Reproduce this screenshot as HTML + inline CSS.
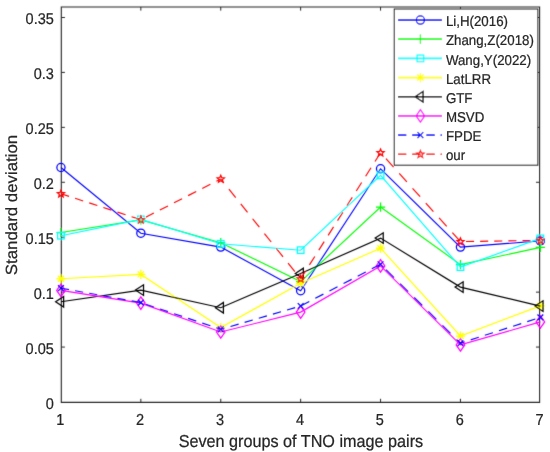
<!DOCTYPE html><html><head><meta charset="utf-8"><style>html,body{margin:0;padding:0;background:#fff;}svg{display:block;}text{text-rendering:geometricPrecision;font-family:"Liberation Sans",Arial,Helvetica,sans-serif;fill:#262626;stroke:#262626;stroke-width:0.22;}</style></head><body>
<svg width="550" height="452" viewBox="0 0 550 452">
<defs><filter id="b" x="0" y="0" width="550" height="452" filterUnits="userSpaceOnUse"><feConvolveMatrix order="3" kernelMatrix="0.0113 0.0838 0.0113 0.0838 0.6193 0.0838 0.0113 0.0838 0.0113" divisor="1" edgeMode="duplicate"/></filter></defs>
<rect width="550" height="452" fill="#fff"/>
<g filter="url(#b)">
<path d="M140.85 402.4V398.8M140.85 7V10.6M220.75 402.4V398.8M220.75 7V10.6M300.65 402.4V398.8M300.65 7V10.6M380.55 402.4V398.8M380.55 7V10.6M460.45 402.4V398.8M460.45 7V10.6M61.3 347.07H64.9M539.6 347.07H536M61.3 292.14H64.9M539.6 292.14H536M61.3 237.21H64.9M539.6 237.21H536M61.3 182.28H64.9M539.6 182.28H536M61.3 127.35H64.9M539.6 127.35H536M61.3 72.42H64.9M539.6 72.42H536M61.3 17.49H64.9M539.6 17.49H536" stroke="#262626" stroke-width="1" fill="none"/>
<path d="M61.3 7H539.6M61.3 402.4H539.6M61.3 7V402.4M539.6 7V402.4" fill="none" stroke="#262626" stroke-width="1.1" stroke-linecap="square"/>
<polyline points="60.95,167.5 140.85,233.2 220.75,247.1 300.65,290.7 380.55,168.8 460.45,247.1 540.35,240.9" fill="none" stroke="#0000ff" stroke-width="1.15"/>
<g stroke-width="1.25"><circle cx="60.95" cy="167.5" r="4.1" fill="none" stroke="#0000ff"/><circle cx="140.85" cy="233.2" r="4.1" fill="none" stroke="#0000ff"/><circle cx="220.75" cy="247.1" r="4.1" fill="none" stroke="#0000ff"/><circle cx="300.65" cy="290.7" r="4.1" fill="none" stroke="#0000ff"/><circle cx="380.55" cy="168.8" r="4.1" fill="none" stroke="#0000ff"/><circle cx="460.45" cy="247.1" r="4.1" fill="none" stroke="#0000ff"/><circle cx="540.35" cy="240.9" r="4.1" fill="none" stroke="#0000ff"/></g>
<polyline points="60.95,232.5 140.85,219.9 220.75,242.7 300.65,281.6 380.55,207.1 460.45,264.6 540.35,247.4" fill="none" stroke="#00ff00" stroke-width="1.15"/>
<g stroke-width="1.25"><path d="M56.35 232.5H65.55M60.95 227.9V237.1" stroke="#00ff00"/><path d="M136.25 219.9H145.45M140.85 215.3V224.5" stroke="#00ff00"/><path d="M216.15 242.7H225.35M220.75 238.1V247.3" stroke="#00ff00"/><path d="M296.05 281.6H305.25M300.65 277V286.2" stroke="#00ff00"/><path d="M375.95 207.1H385.15M380.55 202.5V211.7" stroke="#00ff00"/><path d="M455.85 264.6H465.05M460.45 260V269.2" stroke="#00ff00"/><path d="M535.75 247.4H544.95M540.35 242.8V252" stroke="#00ff00"/></g>
<polyline points="60.95,235.7 140.85,219.4 220.75,243.8 300.65,250.2 380.55,175.4 460.45,267.1 540.35,238.4" fill="none" stroke="#00ffff" stroke-width="1.15"/>
<g stroke-width="1.25"><rect x="57.65" y="232.4" width="6.6" height="6.6" fill="none" stroke="#00ffff"/><rect x="137.55" y="216.1" width="6.6" height="6.6" fill="none" stroke="#00ffff"/><rect x="217.45" y="240.5" width="6.6" height="6.6" fill="none" stroke="#00ffff"/><rect x="297.35" y="246.9" width="6.6" height="6.6" fill="none" stroke="#00ffff"/><rect x="377.25" y="172.1" width="6.6" height="6.6" fill="none" stroke="#00ffff"/><rect x="457.15" y="263.8" width="6.6" height="6.6" fill="none" stroke="#00ffff"/><rect x="537.05" y="235.1" width="6.6" height="6.6" fill="none" stroke="#00ffff"/></g>
<polyline points="60.95,278.8 140.85,274.4 220.75,327.6 300.65,283.3 380.55,248.2 460.45,336 540.35,305.9" fill="none" stroke="#ffff00" stroke-width="1.15"/>
<g stroke-width="1.25"><path d="M56.35 278.8H65.55M60.95 274.2V283.4M57.85 275.8L64.05 281.8M57.85 281.8L64.05 275.8" stroke="#ffff00"/><path d="M136.25 274.4H145.45M140.85 269.8V279M137.75 271.4L143.95 277.4M137.75 277.4L143.95 271.4" stroke="#ffff00"/><path d="M216.15 327.6H225.35M220.75 323V332.2M217.65 324.6L223.85 330.6M217.65 330.6L223.85 324.6" stroke="#ffff00"/><path d="M296.05 283.3H305.25M300.65 278.7V287.9M297.55 280.3L303.75 286.3M297.55 286.3L303.75 280.3" stroke="#ffff00"/><path d="M375.95 248.2H385.15M380.55 243.6V252.8M377.45 245.2L383.65 251.2M377.45 251.2L383.65 245.2" stroke="#ffff00"/><path d="M455.85 336H465.05M460.45 331.4V340.6M457.35 333L463.55 339M457.35 339L463.55 333" stroke="#ffff00"/><path d="M535.75 305.9H544.95M540.35 301.3V310.5M537.25 302.9L543.45 308.9M537.25 308.9L543.45 302.9" stroke="#ffff00"/></g>
<polyline points="60.95,301.8 140.85,290.1 220.75,307.7 300.65,273.5 380.55,238.1 460.45,287.1 540.35,306.1" fill="none" stroke="#000000" stroke-width="1.15"/>
<g stroke-width="1.25"><path d="M55.62 301.8L63.62 296.5V307.1Z" fill="none" stroke="#000000"/><path d="M135.52 290.1L143.52 284.8V295.4Z" fill="none" stroke="#000000"/><path d="M215.42 307.7L223.42 302.4V313Z" fill="none" stroke="#000000"/><path d="M295.32 273.5L303.32 268.2V278.8Z" fill="none" stroke="#000000"/><path d="M375.22 238.1L383.22 232.8V243.4Z" fill="none" stroke="#000000"/><path d="M455.12 287.1L463.12 281.8V292.4Z" fill="none" stroke="#000000"/><path d="M535.02 306.1L543.02 300.8V311.4Z" fill="none" stroke="#000000"/></g>
<polyline points="60.95,290.4 140.85,303.1 220.75,332 300.65,312.1 380.55,265.9 460.45,344.9 540.35,321.9" fill="none" stroke="#ff00ff" stroke-width="1.15"/>
<g stroke-width="1.25"><path d="M60.95 284.2L65.25 290.4L60.95 296.6L56.65 290.4Z" fill="none" stroke="#ff00ff"/><path d="M140.85 296.9L145.15 303.1L140.85 309.3L136.55 303.1Z" fill="none" stroke="#ff00ff"/><path d="M220.75 325.8L225.05 332L220.75 338.2L216.45 332Z" fill="none" stroke="#ff00ff"/><path d="M300.65 305.9L304.95 312.1L300.65 318.3L296.35 312.1Z" fill="none" stroke="#ff00ff"/><path d="M380.55 259.7L384.85 265.9L380.55 272.1L376.25 265.9Z" fill="none" stroke="#ff00ff"/><path d="M460.45 338.7L464.75 344.9L460.45 351.1L456.15 344.9Z" fill="none" stroke="#ff00ff"/><path d="M540.35 315.7L544.65 321.9L540.35 328.1L536.05 321.9Z" fill="none" stroke="#ff00ff"/></g>
<g stroke="#0000ff" stroke-width="1.15" fill="none"><line x1="60.95" y1="288.2" x2="140.85" y2="302.6" stroke-dasharray="8.23 6.13" stroke-dashoffset="0"/><line x1="140.85" y1="302.6" x2="220.75" y2="329.3" stroke-dasharray="8.54 6.36" stroke-dashoffset="9.75"/><line x1="220.75" y1="329.3" x2="300.65" y2="306" stroke-dasharray="8.44 6.28" stroke-dashoffset="4.55"/><line x1="300.65" y1="306" x2="380.55" y2="264.3" stroke-dasharray="9.14 6.8" stroke-dashoffset="15.36"/><line x1="380.55" y1="264.3" x2="460.45" y2="343.2" stroke-dasharray="11.38 8.47" stroke-dashoffset="12.28"/><line x1="460.45" y1="343.2" x2="540.35" y2="317.4" stroke-dasharray="8.51 6.34" stroke-dashoffset="4.06"/></g>
<g stroke-width="1.25"><path d="M58.05 285.3L63.85 291.1M58.05 291.1L63.85 285.3" stroke="#0000ff"/><path d="M137.95 299.7L143.75 305.5M137.95 305.5L143.75 299.7" stroke="#0000ff"/><path d="M217.85 326.4L223.65 332.2M217.85 332.2L223.65 326.4" stroke="#0000ff"/><path d="M297.75 303.1L303.55 308.9M297.75 308.9L303.55 303.1" stroke="#0000ff"/><path d="M377.65 261.4L383.45 267.2M377.65 267.2L383.45 261.4" stroke="#0000ff"/><path d="M457.55 340.3L463.35 346.1M457.55 346.1L463.35 340.3" stroke="#0000ff"/><path d="M537.45 314.5L543.25 320.3M537.45 320.3L543.25 314.5" stroke="#0000ff"/></g>
<g stroke="#ff0000" stroke-width="1.15" fill="none"><line x1="60.95" y1="193.7" x2="140.85" y2="219.7" stroke-dasharray="8.52 6.34" stroke-dashoffset="0"/><line x1="140.85" y1="219.7" x2="220.75" y2="179" stroke-dasharray="9.09 6.77" stroke-dashoffset="10.38"/><line x1="220.75" y1="179" x2="300.65" y2="278.8" stroke-dasharray="10.85 8.08" stroke-dashoffset="5.86"/><line x1="300.65" y1="278.8" x2="380.55" y2="152.7" stroke-dasharray="10.03 7.47" stroke-dashoffset="1.08"/><line x1="380.55" y1="152.7" x2="460.45" y2="241.6" stroke-dasharray="11.39 8.48" stroke-dashoffset="11.79"/><line x1="460.45" y1="241.6" x2="540.35" y2="240.4" stroke-dasharray="8.1 6.03" stroke-dashoffset="8.6"/></g>
<g stroke-width="1.25"><polygon points="60.95,190 61.96,192.42 64.56,192.63 62.58,194.33 63.18,196.87 60.95,195.51 58.72,196.87 59.32,194.33 57.34,192.63 59.94,192.42" fill="none" stroke="#ff0000"/><polygon points="140.85,216 141.86,218.42 144.46,218.63 142.48,220.33 143.08,222.87 140.85,221.51 138.62,222.87 139.22,220.33 137.24,218.63 139.84,218.42" fill="none" stroke="#ff0000"/><polygon points="220.75,175.3 221.76,177.72 224.36,177.93 222.38,179.63 222.98,182.17 220.75,180.81 218.52,182.17 219.12,179.63 217.14,177.93 219.74,177.72" fill="none" stroke="#ff0000"/><polygon points="300.65,275.1 301.66,277.52 304.26,277.73 302.28,279.43 302.88,281.97 300.65,280.61 298.42,281.97 299.02,279.43 297.04,277.73 299.64,277.52" fill="none" stroke="#ff0000"/><polygon points="380.55,149 381.56,151.42 384.16,151.63 382.18,153.33 382.78,155.87 380.55,154.51 378.32,155.87 378.92,153.33 376.94,151.63 379.54,151.42" fill="none" stroke="#ff0000"/><polygon points="460.45,237.9 461.46,240.32 464.06,240.53 462.08,242.23 462.68,244.77 460.45,243.41 458.22,244.77 458.82,242.23 456.84,240.53 459.44,240.32" fill="none" stroke="#ff0000"/><polygon points="540.35,236.7 541.36,239.12 543.96,239.33 541.98,241.03 542.58,243.57 540.35,242.21 538.12,243.57 538.72,241.03 536.74,239.33 539.34,239.12" fill="none" stroke="#ff0000"/></g>
<rect x="394.3" y="9.0" width="143.5" height="156.2" fill="#fff" stroke="#262626" stroke-width="1.1"/>
<path d="M398 20.05H442" stroke="#0000ff" stroke-width="1.7"/>
<g stroke-width="1.25"><circle cx="420.4" cy="20.05" r="4.1" fill="none" stroke="#0000ff"/></g>
<path d="M398 39.22H442" stroke="#00ff00" stroke-width="1.7"/>
<g stroke-width="1.25"><path d="M415.8 39.22H425M420.4 34.62V43.82" stroke="#00ff00"/></g>
<path d="M398 58.39H442" stroke="#00ffff" stroke-width="1.7"/>
<g stroke-width="1.25"><rect x="417.1" y="55.09" width="6.6" height="6.6" fill="none" stroke="#00ffff"/></g>
<path d="M398 77.56H442" stroke="#ffff00" stroke-width="1.7"/>
<g stroke-width="1.25"><path d="M415.8 77.56H425M420.4 72.96V82.16M417.3 74.56L423.5 80.56M417.3 80.56L423.5 74.56" stroke="#ffff00"/></g>
<path d="M398 96.73H442" stroke="#000000" stroke-width="1.7"/>
<g stroke-width="1.25"><path d="M415.07 96.73L423.07 91.43V102.03Z" fill="none" stroke="#000000"/></g>
<path d="M398 115.9H442" stroke="#ff00ff" stroke-width="1.7"/>
<g stroke-width="1.25"><path d="M420.4 109.7L424.7 115.9L420.4 122.1L416.1 115.9Z" fill="none" stroke="#ff00ff"/></g>
<path d="M398 135.07H442" stroke="#0000ff" stroke-width="1.7" stroke-dasharray="8.3 5.9"/>
<g stroke-width="1.25"><path d="M417.5 132.17L423.3 137.97M417.5 137.97L423.3 132.17" stroke="#0000ff"/></g>
<path d="M398 154.24H442" stroke="#ff0000" stroke-width="1.7" stroke-dasharray="8.3 5.9"/>
<g stroke-width="1.25"><polygon points="420.4,150.54 421.41,152.96 424.01,153.17 422.03,154.87 422.63,157.41 420.4,156.05 418.17,157.41 418.77,154.87 416.79,153.17 419.39,152.96" fill="none" stroke="#ff0000"/></g>
</g>
<g>
<text transform="translate(53.8 409) scale(1 1.07)" font-size="14.5" text-anchor="end">0</text>
<text transform="translate(53.8 354.07) scale(1 1.07)" font-size="14.5" text-anchor="end">0.05</text>
<text transform="translate(53.8 299.14) scale(1 1.07)" font-size="14.5" text-anchor="end">0.1</text>
<text transform="translate(53.8 244.21) scale(1 1.07)" font-size="14.5" text-anchor="end">0.15</text>
<text transform="translate(53.8 189.28) scale(1 1.07)" font-size="14.5" text-anchor="end">0.2</text>
<text transform="translate(53.8 134.35) scale(1 1.07)" font-size="14.5" text-anchor="end">0.25</text>
<text transform="translate(53.8 79.42) scale(1 1.07)" font-size="14.5" text-anchor="end">0.3</text>
<text transform="translate(53.8 24.49) scale(1 1.07)" font-size="14.5" text-anchor="end">0.35</text>
<text transform="translate(60.25 424.9) scale(1 1.1)" font-size="14.5" text-anchor="middle">1</text>
<text transform="translate(140.15 424.9) scale(1 1.1)" font-size="14.5" text-anchor="middle">2</text>
<text transform="translate(220.05 424.9) scale(1 1.1)" font-size="14.5" text-anchor="middle">3</text>
<text transform="translate(299.95 424.9) scale(1 1.1)" font-size="14.5" text-anchor="middle">4</text>
<text transform="translate(379.85 424.9) scale(1 1.1)" font-size="14.5" text-anchor="middle">5</text>
<text transform="translate(459.75 424.9) scale(1 1.1)" font-size="14.5" text-anchor="middle">6</text>
<text transform="translate(539.65 424.9) scale(1 1.1)" font-size="14.5" text-anchor="middle">7</text>
<text transform="translate(300.9 446.6) scale(1 1.07)" font-size="16.2" text-anchor="middle">Seven groups of TNO image pairs</text>
<text transform="translate(16.5 205) scale(1 1.04) rotate(-90)" font-size="16.2" text-anchor="middle">Standard deviation</text>
<text transform="translate(445.9 26.25) scale(1 1.07)" font-size="13.3">Li,H(2016)</text>
<text transform="translate(445.9 45.42) scale(1 1.07)" font-size="13.3">Zhang,Z(2018)</text>
<text transform="translate(445.9 64.59) scale(1 1.07)" font-size="13.3">Wang,Y(2022)</text>
<text transform="translate(445.9 83.76) scale(1 1.07)" font-size="13.3">LatLRR</text>
<text transform="translate(445.9 102.93) scale(1 1.07)" font-size="13.3">GTF</text>
<text transform="translate(445.9 122.1) scale(1 1.07)" font-size="13.3">MSVD</text>
<text transform="translate(445.9 141.27) scale(1 1.07)" font-size="13.3">FPDE</text>
<text transform="translate(445.9 160.44) scale(1 1.07)" font-size="13.3">our</text>
</g></svg></body></html>
